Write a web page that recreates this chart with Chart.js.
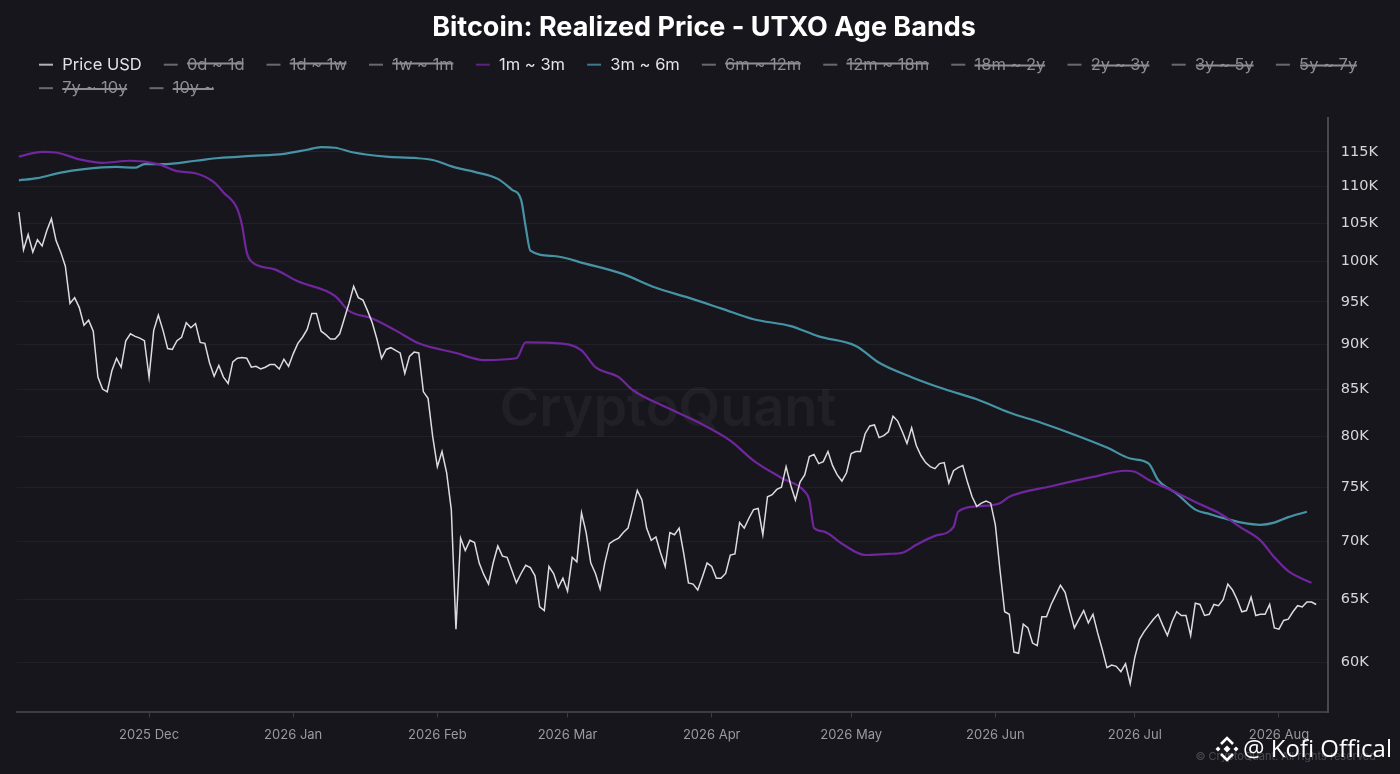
<!DOCTYPE html>
<html>
<head>
<meta charset="utf-8">
<script src="https://cdn.jsdelivr.net/npm/chart.js@4.4.1/dist/chart.umd.min.js"></script>
<style>
  html, body { margin: 0; padding: 0; background: #17161d; }
  #wrap { width: 1400px; height: 774px; position: relative; }
</style>
</head>
<body>
<div id="wrap"><canvas id="c"></canvas></div>
<script>
// ---------- DATA (x = days since 2025-11-01) ----------
const monthTickDays = [30, 61, 92, 120, 151, 181, 212, 242, 273];
const monthTickLabels = ['2025 Dec', '2026 Jan', '2026 Feb', '2026 Mar', '2026 Apr', '2026 May', '2026 Jun', '2026 Jul', '2026 Aug'];
const yTickValues = [60, 65, 70, 75, 80, 85, 90, 95, 100, 105, 110, 115]; // thousands USD

const priceFirstDay = 2; // daily closes from day 2 (2025-11-03) onward
const priceUSD = [
  106.5, 101.5, 103.5, 101.2, 102.8, 102.0, 104.0, 105.6, 102.7, 101.2,
  99.4, 94.8, 95.5, 94.3, 92.2, 92.8, 91.5, 86.3, 85.0, 84.7,
  87.0, 88.4, 87.4, 90.4, 91.2, 90.9, 90.7, 90.4, 86.3, 91.6,
  93.4, 91.6, 89.5, 89.4, 90.4, 90.8, 92.5, 91.9, 92.4, 90.2,
  90.1, 87.9, 86.4, 87.6, 86.3, 85.6, 88.0, 88.4, 88.5, 88.4,
  87.4, 87.5, 87.2, 87.4, 87.7, 87.7, 87.2, 88.3, 87.5, 88.9,
  90.1, 90.8, 91.7, 93.6, 93.6, 91.5, 91.1, 90.6, 90.6, 91.2,
  93.0, 94.8, 96.9, 95.5, 95.2, 93.9, 92.5, 90.6, 88.4, 89.4,
  89.6, 89.3, 89.0, 86.7, 88.6, 89.1, 89.0, 84.7, 84.0, 80.0,
  77.0, 78.5, 76.4, 72.9, 62.6, 70.3, 69.2, 70.1, 69.9, 68.1,
  67.1, 66.3, 68.1, 69.6, 68.7, 68.6, 67.5, 66.4, 67.2, 67.9,
  67.7, 67.0, 64.4, 64.1, 67.8, 67.2, 66.0, 66.8, 65.7, 68.6,
  68.2, 72.6, 70.8, 68.1, 67.2, 65.9, 68.1, 69.8, 70.1, 70.3,
  70.8, 71.2, 72.9, 74.7, 73.8, 71.2, 70.1, 70.4, 69.0, 67.8,
  70.8, 70.6, 71.2, 68.9, 66.4, 66.3, 65.8, 66.9, 68.1, 67.8,
  66.8, 66.8, 67.2, 68.8, 68.9, 71.7, 71.2, 72.1, 72.9, 73.0,
  70.6, 74.1, 74.3, 74.8, 75.0, 77.0, 75.2, 73.8, 75.5, 76.2,
  78.0, 78.2, 77.3, 77.5, 78.5, 77.1, 76.2, 75.6, 76.4, 78.3,
  78.5, 78.5, 80.3, 81.1, 81.2, 79.9, 80.1, 80.5, 82.1, 81.6,
  80.5, 79.3, 80.9, 79.1, 78.1, 77.4, 77.0, 76.8, 77.3, 77.4,
  75.4, 76.6, 76.9, 77.1, 75.5, 74.1, 73.2, 73.5, 73.7, 73.5,
  71.5, 67.5, 64.0, 63.8, 60.8, 60.7, 63.0, 62.7, 61.5, 61.3,
  63.6, 63.6, 64.6, 65.4, 66.2, 65.6, 64.1, 62.7, 63.4, 64.1,
  63.1, 63.8, 62.3, 61.0, 59.6, 59.8, 59.7, 59.3, 59.9, 58.4,
  60.4, 61.8, 62.4, 62.9, 63.4, 63.8, 62.9, 62.1, 63.2, 64.0,
  63.7, 63.7, 62.1, 64.7, 64.6, 63.7, 63.8, 64.6, 64.5, 65.0,
  66.3, 65.8, 65.0, 64.0, 64.1, 65.2, 63.7, 63.8, 63.8, 64.6,
  62.7, 62.6, 63.3, 63.4, 64.0, 64.5, 64.4, 64.8, 64.8, 64.6
];

const band1m3mDays = [2, 7, 10, 15, 20, 26, 32, 36, 40, 44, 46, 49, 50, 51, 52, 57, 62, 70, 73, 78,
  83, 88, 96, 102, 109, 111, 118, 123, 126, 131, 134, 141, 148, 155, 160, 166, 171, 172, 173, 175,
  179, 184, 189, 192, 195, 199, 203, 204, 208, 213, 215, 224, 233, 240, 242, 245, 250, 255, 260, 265,
  269, 272, 275, 280];
const band1m3m = [114.3, 115.0, 114.9, 113.9, 113.4, 113.7, 113.2, 112.2, 111.9, 110.6, 109.2, 106.9, 104.7, 101.2, 100.0, 99.0, 97.5, 95.7, 93.9, 93.0,
  91.6, 90.1, 89.0, 88.2, 88.4, 90.2, 90.1, 89.3, 87.4, 86.3, 84.9, 83.1, 81.5, 79.6, 77.6, 75.9, 74.6, 73.8, 71.2, 70.9,
  69.8, 68.8, 68.9, 69.0, 69.7, 70.5, 71.3, 72.7, 73.2, 73.5, 74.1, 75.1, 76.0, 76.6, 76.5, 75.7, 74.7, 73.6, 72.6, 71.2,
  70.1, 68.6, 67.4, 66.4];

const band3m6mDays = [2, 6, 11, 16, 23, 27, 29, 33, 40, 45, 52, 59, 64, 67, 70, 74, 81, 87, 91, 96,
  100, 105, 108, 110, 111, 112, 117, 124, 132, 139, 146, 153, 160, 168, 174, 182, 187, 194, 201, 208,
  215, 222, 229, 236, 241, 245, 247, 251, 255, 258, 262, 265, 269, 272, 275, 279];
const band3m6m = [110.9, 111.2, 112.0, 112.5, 112.8, 112.7, 113.2, 113.2, 113.7, 114.1, 114.4, 114.7, 115.3, 115.7, 115.6, 114.9, 114.3, 114.1, 113.8, 112.7,
  112.1, 111.1, 109.6, 108.2, 104.5, 101.4, 100.7, 99.7, 98.4, 96.7, 95.5, 94.2, 92.9, 92.1, 90.9, 89.8, 87.9, 86.3, 85.0, 83.9,
  82.5, 81.4, 80.2, 78.9, 77.8, 77.3, 75.7, 74.4, 72.9, 72.5, 72.0, 71.7, 71.5, 71.7, 72.2, 72.7];

const hiddenBands = ['0d ~ 1d', '1d ~ 1w', '1w ~ 1m', '6m ~ 12m', '12m ~ 18m', '18m ~ 2y', '2y ~ 3y', '3y ~ 5y', '5y ~ 7y', '7y ~ 10y', '10y ~'];

// ---------- helpers ----------
const toPoints = (days, vals) => vals.map((v, i) => ({ x: days[i], y: v }));
const pricePoints = priceUSD.map((v, i) => ({ x: priceFirstDay + i, y: v }));

const HIDDEN_COLOR = '#7f7f85';
function hiddenDs(label) {
  return { label, data: [], hidden: true, borderColor: HIDDEN_COLOR, backgroundColor: HIDDEN_COLOR };
}

const datasets = [
  { label: 'Price USD', data: pricePoints, borderColor: '#dcdcdf', backgroundColor: '#dcdcdf', borderWidth: 1.5, tension: 0 },
  hiddenDs('0d ~ 1d'), hiddenDs('1d ~ 1w'), hiddenDs('1w ~ 1m'),
  { label: '1m ~ 3m', data: toPoints(band1m3mDays, band1m3m), borderColor: '#70269c', backgroundColor: '#70269c', borderWidth: 2.2, cubicInterpolationMode: 'monotone' },
  { label: '3m ~ 6m', data: toPoints(band3m6mDays, band3m6m), borderColor: '#4793a6', backgroundColor: '#4793a6', borderWidth: 2.2, cubicInterpolationMode: 'monotone' },
  ...hiddenBands.slice(3).map(hiddenDs)
];

function legendMarker(color) {
  const c = document.createElement('canvas');
  c.width = 30; c.height = 4;
  const g = c.getContext('2d');
  g.strokeStyle = color; g.lineWidth = 1.6;
  g.beginPath(); g.moveTo(15, 2); g.lineTo(29, 2); g.stroke();
  return c;
}

const decor = {
  id: 'decor',
  afterInit(chart) {
    const lg = chart.legend;
    const f = lg.fit;
    lg.fit = function () { f.call(this); this.height += 12; };
  },
  beforeDraw(chart) {
    const { ctx, width, height } = chart;
    ctx.save();
    ctx.fillStyle = '#17161d';
    ctx.fillRect(0, 0, width, height);
    ctx.restore();
  },
  beforeDatasetsDraw(chart) {
    const { ctx } = chart;
    ctx.save();
    ctx.font = '600 54px Inter';
    ctx.fillStyle = 'rgba(255,255,255,0.045)';
    ctx.textAlign = 'center';
    ctx.textBaseline = 'middle';
    ctx.fillText('CryptoQuant', 668, 410);
    ctx.restore();
  },
  afterDraw(chart) {
    const { ctx } = chart;
    ctx.save();
    ctx.font = '11px Inter';
    ctx.fillStyle = 'rgba(255,255,255,0.22)';
    ctx.textAlign = 'right';
    ctx.textBaseline = 'middle';
    ctx.fillText('© CryptoQuant. All rights reserved', 1376, 757);
    // logo
    ctx.fillStyle = '#ffffff';
    const cx = 1227, cy = 749;
    const dia = (x, y, r) => { ctx.beginPath(); ctx.moveTo(x, y - r); ctx.lineTo(x + r, y); ctx.lineTo(x, y + r); ctx.lineTo(x - r, y); ctx.closePath(); ctx.fill(); };
    dia(cx, cy, 3.5); dia(cx - 9, cy, 2.5); dia(cx + 9, cy, 2.5);
    ctx.strokeStyle = '#ffffff'; ctx.lineWidth = 2.6;
    ctx.beginPath(); ctx.moveTo(cx - 6, cy - 5); ctx.lineTo(cx, cy - 11); ctx.lineTo(cx + 6, cy - 5); ctx.stroke();
    ctx.beginPath(); ctx.moveTo(cx - 6, cy + 5); ctx.lineTo(cx, cy + 11); ctx.lineTo(cx + 6, cy + 5); ctx.stroke();
    ctx.font = '24px "Open Sans"';
    ctx.textAlign = 'left';
    ctx.textBaseline = 'alphabetic';
    ctx.fillText('@ Kofi Offical', 1243, 757);
    ctx.restore();
  }
};

new Chart(document.getElementById('c'), {
  type: 'line',
  data: { datasets },
  plugins: [decor],
  options: {
    responsive: true,
    maintainAspectRatio: false,
    animation: false,
    parsing: true,
    layout: { padding: { left: 17, right: 9, top: 0, bottom: 21 } },
    elements: { point: { radius: 0, hoverRadius: 0 }, line: { fill: false } },
    plugins: {
      tooltip: { enabled: false },
      title: {
        display: true,
        text: 'Bitcoin: Realized Price - UTXO Age Bands',
        color: '#ffffff',
        font: { family: 'Inter', size: 27, weight: 'bold' },
        padding: { top: 12, bottom: 5 }
      },
      legend: {
        display: true,
        position: 'top',
        align: 'start',
        labels: {
          font: { family: 'Inter', size: 16.5 },
          padding: 7,
          usePointStyle: true,
          pointStyleWidth: 30,
          generateLabels(chart) {
            return chart.data.datasets.map((ds, i) => {
              const hidden = !chart.isDatasetVisible(i);
              const col = hidden ? HIDDEN_COLOR : ds.borderColor;
              return {
                text: ds.label,
                fillStyle: col,
                strokeStyle: col,
                lineWidth: 0,
                hidden,
                datasetIndex: i,
                fontColor: hidden ? '#8d8d92' : '#e4e4e6',
                pointStyle: legendMarker(col)
              };
            });
          }
        }
      }
    },
    scales: {
      x: {
        type: 'linear',
        min: 1.6,
        max: 283.5,
        afterBuildTicks(axis) { axis.ticks = monthTickDays.map(v => ({ value: v })); },
        ticks: {
          autoSkip: false,
          maxRotation: 0,
          color: '#9a9a9f',
          font: { family: 'Inter', size: 13 },
          padding: 10,
          callback(value) { const k = monthTickDays.indexOf(value); return k >= 0 ? monthTickLabels[k] : ''; }
        },
        grid: { drawOnChartArea: false, drawTicks: true, tickLength: 5, color: '#3d3d43' },
        border: { display: true, color: '#3d3d43', width: 2 }
      },
      y: {
        type: 'logarithmic',
        position: 'right',
        min: 56.3,
        max: 120,
        afterBuildTicks(axis) { axis.ticks = yTickValues.map(v => ({ value: v })); },
        ticks: {
          color: '#d6d6d9',
          font: { family: 'DejaVu Sans', size: 14.5 },
          padding: 13,
          callback(value) { return value + 'K'; }
        },
        grid: { color: 'rgba(255,255,255,0.045)', drawTicks: false },
        border: { display: true, color: '#48484e', width: 2 }
      }
    }
  }
});
</script>
</body>
</html>
